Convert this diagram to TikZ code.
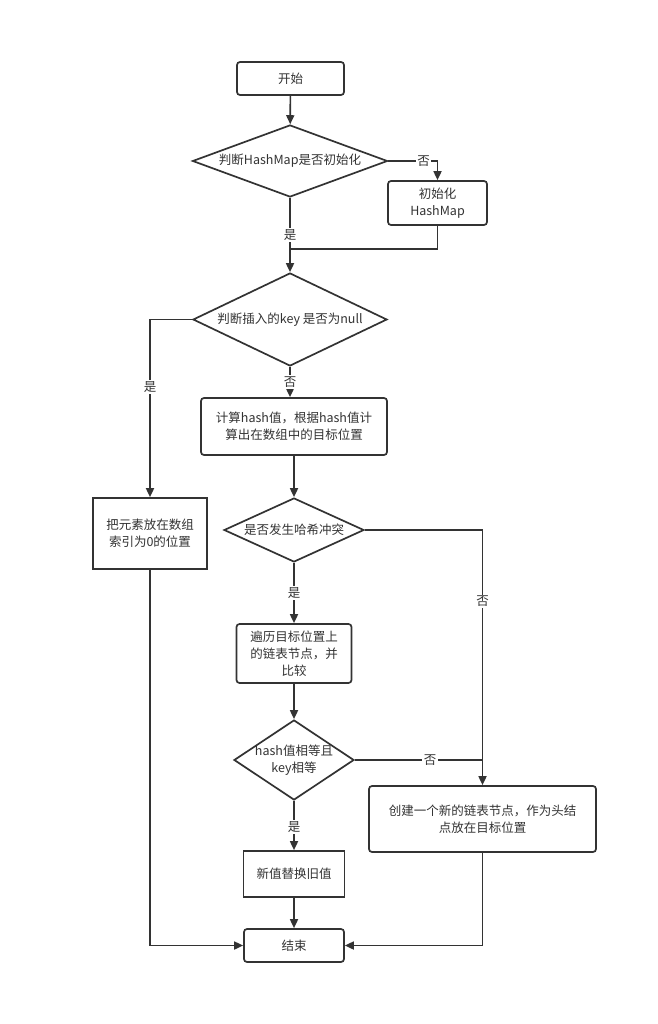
\documentclass[tikz,border=0pt]{standalone}
\usepackage{fontspec}
\setmainfont{Noto Sans CJK SC}
\usetikzlibrary{shapes.geometric,arrows.meta}
\definecolor{lnc}{HTML}{333333}
\definecolor{txc}{HTML}{333333}
\tikzset{
  basefont/.style={font=\fontsize{12.5}{17}\selectfont, text=txc},
  rbox/.style={draw=lnc, line width=1.7pt, rounded corners=3pt, inner sep=0pt, align=center, basefont},
  sbox/.style={draw=lnc, line width=1.7pt, inner sep=0pt, align=center, basefont},
  dia/.style={draw=lnc, line width=1.7pt, diamond, inner sep=0pt},
  diatext/.style={align=center, inner sep=0pt, basefont},
  lab/.style={fill=white, inner sep=1.5pt, basefont},
  conn/.style={draw=lnc, line width=1.7pt},
  arr/.style={conn, -{Triangle[length=9pt,width=8pt]}},
}
\begin{document}
\begin{tikzpicture}[x=1pt,y=-1pt]
\fill[white] (0,0) rectangle (657,1024);
\useasboundingbox (0,0) rectangle (657,1024);

% nodes
\node[rbox, minimum width=107pt, minimum height=33pt] (start) at (290.5,78.5) {开始};
\node[dia, minimum width=195pt, minimum height=72pt] (d1) at (290,161) {};
\node[diatext] (t1) at (d1.center) {判断HashMap是否初始化};
\node[rbox, minimum width=99pt, minimum height=44pt] (init) at (437.5,203) {初始化\\HashMap};
\node[dia, minimum width=194pt, minimum height=93pt] (d2) at (290,319.5) {};
\node[diatext] (t2) at (d2.center) {判断插入的key 是否为null};
\node[rbox, minimum width=186pt, minimum height=57pt] (calc) at (294,426.5) {计算hash值，根据hash值计\\算出在数组中的目标位置};
\node[sbox, minimum width=114pt, minimum height=71pt] (put0) at (150,533.5) {把元素放在数组\\索引为0的位置};
\node[dia, minimum width=140pt, minimum height=64pt] (d3) at (294,530) {};
\node[diatext] (t3) at (d3.center) {是否发生哈希冲突};
\node[rbox, minimum width=115pt, minimum height=59pt] (trav) at (294,653.5) {遍历目标位置上\\的链表节点，并\\比较};
\node[dia, minimum width=120pt, minimum height=80pt] (d4) at (294,760) {};
\node[diatext] (t4) at (d4.center) {hash值相等且\\key相等};
\node[sbox, minimum width=101pt, minimum height=46pt] (newv) at (294,874) {新值替换旧值};
\node[rbox, minimum width=100pt, minimum height=33pt] (end) at (294,945.5) {结束};
\node[rbox, minimum width=227pt, minimum height=66pt] (create) at (482.5,819) {创建一个新的链表节点，作为头结\\点放在目标位置};

\coordinate (m1) at (290,249);

% connectors
\draw[arr] (start) -- (d1);
\draw[arr] (d1.east) -- node[lab, pos=0.72] (l1) {否} (d1.east -| init.north) -- (init.north);
\draw[arr] (d1.south) -- node[lab, pos=0.5] (l2) {是} (d2.north);
\draw[conn] (init.south) |- (m1);
\draw[arr] (d2.west) -| node[lab, pos=0.69] (l3) {是} (put0.north);
\draw[arr] (d2.south) -- node[lab, pos=0.5] (l4) {否} (d2.south |- calc.north);
\draw[arr] (calc.south) -- (d3.north);
\draw[arr] (d3.east) -| node[lab, pos=0.64] (l5) {否} (create.north);
\draw[arr] (d3.south) -- node[lab, pos=0.5] (l6) {是} (trav.north);
\draw[arr] (trav.south) -- (d4.north);
\draw[conn] (d4.east) -- node[lab, pos=0.59] (l7) {否} (d4.east -| create.north);
\draw[arr] (d4.south) -- node[lab, pos=0.53] (l8) {是} (newv.north);
\draw[arr] (newv.south) -- (end.north);
\draw[arr] (put0.south) |- (end.west);
\draw[arr] (create.south) |- (end.east);
\end{tikzpicture}
\end{document}
